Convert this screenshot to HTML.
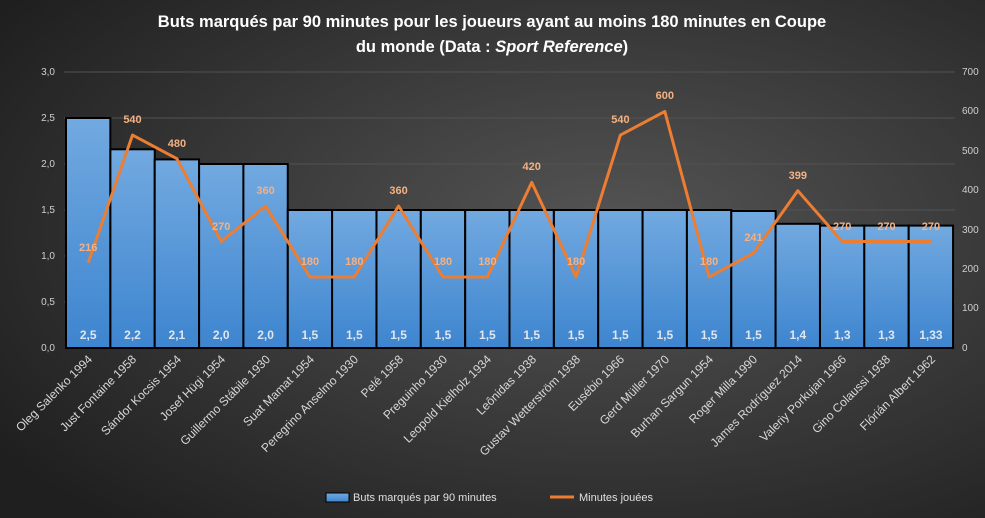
<!DOCTYPE html><html><head><meta charset="utf-8"><style>body{margin:0;width:985px;height:518px;overflow:hidden;background:#2a2a2a}svg{display:block;font-family:"Liberation Sans",sans-serif}</style></head><body>
<svg width="985" height="518" viewBox="0 0 985 518">
<defs>
<radialGradient id="bg" cx="0.62" cy="0.45" r="0.75"><stop offset="0" stop-color="#555"/><stop offset="1" stop-color="#1f1f1f"/></radialGradient>
<linearGradient id="bar" x1="0" y1="0" x2="0" y2="1"><stop offset="0" stop-color="#72a9e0"/><stop offset="1" stop-color="#3d85cf"/></linearGradient>
</defs>
<rect width="985" height="518" fill="url(#bg)"/>
<text x="492" y="27" fill="#fff" font-size="16.5" font-weight="bold" text-anchor="middle">Buts marqués par 90 minutes pour les joueurs ayant au moins 180 minutes en Coupe</text>
<text x="492" y="52" fill="#fff" font-size="16.5" font-weight="bold" text-anchor="middle">du monde (Data : <tspan font-style="italic">Sport Reference</tspan>)</text>
<g stroke="#525252" stroke-width="1"><line x1="64" x2="955" y1="72" y2="72"/><line x1="64" x2="955" y1="118" y2="118"/><line x1="64" x2="955" y1="164" y2="164"/><line x1="64" x2="955" y1="210" y2="210"/><line x1="64" x2="955" y1="256" y2="256"/><line x1="64" x2="955" y1="302" y2="302"/></g>
<g fill="#cfcfcf" font-size="10" text-anchor="end">
<text x="55" y="75">3,0</text><text x="55" y="121">2,5</text><text x="55" y="167">2,0</text><text x="55" y="213">1,5</text><text x="55" y="259">1,0</text><text x="55" y="305">0,5</text><text x="55" y="351">0,0</text></g>
<g fill="#cfcfcf" font-size="10">
<text x="962" y="75">700</text><text x="962" y="114">600</text><text x="962" y="154">500</text><text x="962" y="193">400</text><text x="962" y="233">300</text><text x="962" y="272">200</text><text x="962" y="311">100</text><text x="962" y="351">0</text></g>
<g fill="url(#bar)" stroke="#000" stroke-width="2">
<rect x="66" y="118" width="44.35" height="230"/>
<rect x="110.4" y="149.3" width="44.35" height="198.7"/>
<rect x="154.7" y="159.4" width="44.35" height="188.6"/>
<rect x="199.1" y="164" width="44.35" height="184"/>
<rect x="243.4" y="164" width="44.35" height="184"/>
<rect x="287.8" y="210" width="44.35" height="138"/>
<rect x="332.1" y="210" width="44.35" height="138"/>
<rect x="376.5" y="210" width="44.35" height="138"/>
<rect x="420.8" y="210" width="44.35" height="138"/>
<rect x="465.2" y="210" width="44.35" height="138"/>
<rect x="509.5" y="210" width="44.35" height="138"/>
<rect x="553.9" y="210" width="44.35" height="138"/>
<rect x="598.2" y="210" width="44.35" height="138"/>
<rect x="642.6" y="210" width="44.35" height="138"/>
<rect x="686.9" y="210" width="44.35" height="138"/>
<rect x="731.3" y="211" width="44.35" height="137"/>
<rect x="775.6" y="223.8" width="44.35" height="124.2"/>
<rect x="820" y="225.6" width="44.35" height="122.4"/>
<rect x="864.3" y="225.6" width="44.35" height="122.4"/>
<rect x="908.7" y="225.6" width="44.35" height="122.4"/>
</g>
<g fill="#dfe6f0" font-size="12" font-weight="bold" text-anchor="middle">
<text x="88.2" y="339">2,5</text><text x="132.5" y="339">2,2</text><text x="176.9" y="339">2,1</text><text x="221.2" y="339">2,0</text><text x="265.6" y="339">2,0</text><text x="309.9" y="339">1,5</text><text x="354.3" y="339">1,5</text><text x="398.6" y="339">1,5</text><text x="443" y="339">1,5</text><text x="487.4" y="339">1,5</text><text x="531.7" y="339">1,5</text><text x="576.1" y="339">1,5</text><text x="620.4" y="339">1,5</text><text x="664.8" y="339">1,5</text><text x="709.1" y="339">1,5</text><text x="753.5" y="339">1,5</text><text x="797.8" y="339">1,4</text><text x="842.2" y="339">1,3</text><text x="886.5" y="339">1,3</text><text x="930.9" y="339">1,33</text></g>
<polyline fill="none" stroke="#ed7d31" stroke-width="3" stroke-linejoin="round" points="88.2,262.8 132.5,135.1 176.9,158.7 221.2,241.5 265.6,206.1 309.9,277 354.3,277 398.6,206.1 443,277 487.4,277 531.7,182.4 576.1,277 620.4,135.1 664.8,111.4 709.1,277 753.5,253 797.8,190.7 842.2,241.5 886.5,241.5 930.9,241.5"/>
<g fill="#f4b183" font-size="11" font-weight="bold" text-anchor="middle">
<text x="88.2" y="251">216</text><text x="132.5" y="123">540</text><text x="176.9" y="147">480</text><text x="221.2" y="230">270</text><text x="265.6" y="194">360</text><text x="309.9" y="265">180</text><text x="354.3" y="265">180</text><text x="398.6" y="194">360</text><text x="443" y="265">180</text><text x="487.4" y="265">180</text><text x="531.7" y="170">420</text><text x="576.1" y="265">180</text><text x="620.4" y="123">540</text><text x="664.8" y="99">600</text><text x="709.1" y="265">180</text><text x="753.5" y="241">241</text><text x="797.8" y="179">399</text><text x="842.2" y="230">270</text><text x="886.5" y="230">270</text><text x="930.9" y="230">270</text></g>
<g fill="#d8d8d8" font-size="12" text-anchor="end">
<text transform="translate(93,360) rotate(-45)">Oleg Salenko 1994</text>
<text transform="translate(137,360) rotate(-45)">Just Fontaine 1958</text>
<text transform="translate(182,360) rotate(-45)">Sándor Kocsis 1954</text>
<text transform="translate(226,360) rotate(-45)">Josef Hügi 1954</text>
<text transform="translate(271,360) rotate(-45)">Guillermo Stábile 1930</text>
<text transform="translate(315,360) rotate(-45)">Suat Mamat 1954</text>
<text transform="translate(359,360) rotate(-45)">Peregrino Anselmo 1930</text>
<text transform="translate(404,360) rotate(-45)">Pelé 1958</text>
<text transform="translate(448,360) rotate(-45)">Preguinho 1930</text>
<text transform="translate(492,360) rotate(-45)">Leopold Kielholz 1934</text>
<text transform="translate(537,360) rotate(-45)">Leônidas 1938</text>
<text transform="translate(581,360) rotate(-45)">Gustav Wetterström 1938</text>
<text transform="translate(625,360) rotate(-45)">Eusébio 1966</text>
<text transform="translate(670,360) rotate(-45)">Gerd Müller 1970</text>
<text transform="translate(714,360) rotate(-45)">Burhan Sargun 1954</text>
<text transform="translate(758,360) rotate(-45)">Roger Milla 1990</text>
<text transform="translate(803,360) rotate(-45)">James Rodríguez 2014</text>
<text transform="translate(847,360) rotate(-45)">Valeriy Porkujan 1966</text>
<text transform="translate(891,360) rotate(-45)">Gino Colaussi 1938</text>
<text transform="translate(936,360) rotate(-45)">Flórián Albert 1962</text>
</g>
<rect x="326" y="493" width="23" height="9" fill="url(#bar)" stroke="#000" stroke-width="1"/>
<text x="353" y="501" fill="#e0e0e0" font-size="11">Buts marqués par 90 minutes</text>
<line x1="550" x2="574" y1="497" y2="497" stroke="#ed7d31" stroke-width="3"/>
<text x="579" y="501" fill="#e0e0e0" font-size="11">Minutes jouées</text>
</svg></body></html>
